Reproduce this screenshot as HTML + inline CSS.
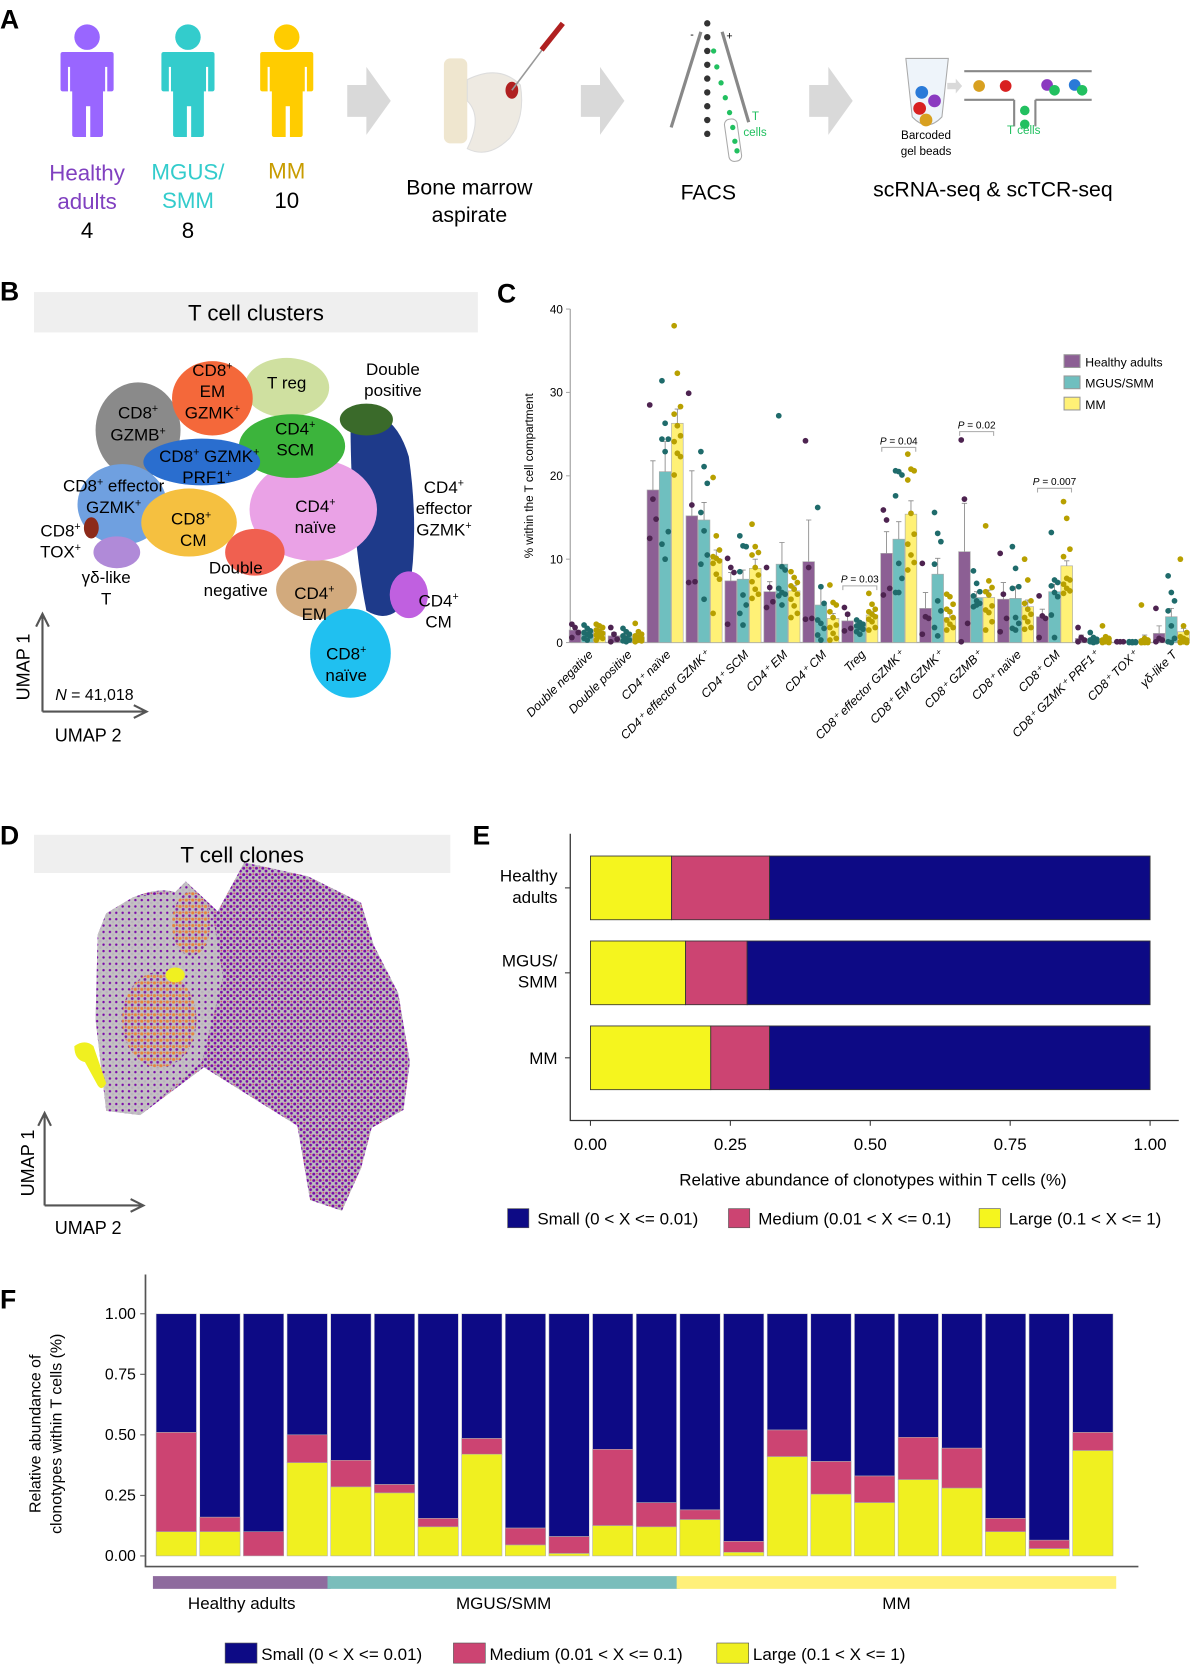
<!DOCTYPE html>
<html><head><meta charset="utf-8"><style>
html,body{margin:0;padding:0;background:#fff;}
svg{display:block;font-family:"Liberation Sans",Arial,sans-serif;}
</style></head><body>
<svg id="fig" width="1200" height="1677" viewBox="0 0 1130 1579" preserveAspectRatio="none" xmlns="http://www.w3.org/2000/svg">
<defs>
<pattern id="pdots" width="6" height="6" patternUnits="userSpaceOnUse"><rect width="6" height="6" fill="#bdbdbd"/><circle cx="1.5" cy="1.5" r="1.4" fill="#7a0aa8"/><circle cx="4.5" cy="4.2" r="1.3" fill="#7a0aa8"/><circle cx="4.5" cy="1" r="0.8" fill="#d84a6a"/></pattern>
<pattern id="odots" width="6" height="6" patternUnits="userSpaceOnUse"><rect width="6" height="6" fill="#bdbdbd"/><circle cx="1.5" cy="1.5" r="1.5" fill="#f08a30"/><circle cx="4.5" cy="4.2" r="1.3" fill="#7a0aa8"/><circle cx="4.5" cy="1" r="0.9" fill="#e86040"/></pattern>
<pattern id="gdots" width="6" height="6" patternUnits="userSpaceOnUse"><rect width="6" height="6" fill="#c4c4c4"/><circle cx="1.5" cy="1.5" r="1.1" fill="#7a0aa8"/></pattern>
</defs>

<!-- Panel A -->
<g>
<text x="0" y="27" font-size="25" font-weight="bold">A</text>
<g fill="#9966ff">
<circle cx="82" cy="35" r="12"/><rect x="57" y="49" width="50" height="37" rx="2"/><rect x="68" y="80" width="29" height="49" rx="2"/>
<rect x="64" y="63" width="2" height="24" fill="#fff"/><rect x="99" y="63" width="2" height="24" fill="#fff"/><rect x="81" y="100" width="4" height="30" fill="#fff"/></g>
<g fill="#33cccc">
<circle cx="177" cy="35" r="12"/><rect x="152" y="49" width="50" height="37" rx="2"/><rect x="163" y="80" width="29" height="49" rx="2"/>
<rect x="159" y="63" width="2" height="24" fill="#fff"/><rect x="194" y="63" width="2" height="24" fill="#fff"/><rect x="176" y="100" width="4" height="30" fill="#fff"/></g>
<g fill="#ffcc00">
<circle cx="270" cy="35" r="12"/><rect x="245" y="49" width="50" height="37" rx="2"/><rect x="256" y="80" width="29" height="49" rx="2"/>
<rect x="252" y="63" width="2" height="24" fill="#fff"/><rect x="287" y="63" width="2" height="24" fill="#fff"/><rect x="269" y="100" width="4" height="30" fill="#fff"/></g>
<g font-size="21" text-anchor="middle">
<text x="82" y="170" fill="#8040c0">Healthy</text>
<text x="82" y="197" fill="#8040c0">adults</text>
<text x="82" y="224">4</text>
<text x="177" y="169" fill="#33cccc">MGUS/</text>
<text x="177" y="196" fill="#33cccc">SMM</text>
<text x="177" y="224">8</text>
<text x="270" y="168" fill="#c89c00">MM</text>
<text x="270" y="196">10</text>
<text x="442" y="183" font-size="20">Bone marrow</text>
<text x="442" y="209" font-size="20">aspirate</text>
<text x="667" y="188" font-size="20">FACS</text>
<text x="935" y="185" font-size="20">scRNA-seq &amp; scTCR-seq</text>
</g>
<g fill="#d9d9d9">
<path d="M327,80 H345 V63 L368,95 L345,127 V110 H327 Z"/>
<path d="M547,80 H565 V63 L588,95 L565,127 V110 H547 Z"/>
<path d="M762,80 H780 V63 L803,95 L780,127 V110 H762 Z"/>
</g>
<g>
<rect x="418" y="55" width="22" height="80" rx="6" fill="#efe6cf"/>
<path d="M440,75 Q470,60 490,80 Q495,110 480,130 Q460,150 440,140 Q455,110 440,95 Z" fill="#eeeae2" stroke="#ddd"/>
<ellipse cx="482" cy="85" rx="6" ry="8" fill="#b02020"/>
<line x1="482" y1="85" x2="512" y2="45" stroke="#999" stroke-width="1.5"/>
<line x1="510" y1="47" x2="530" y2="22" stroke="#b02020" stroke-width="5"/>
</g>
<g>
<line x1="660" y1="30" x2="632" y2="120" stroke="#888" stroke-width="3"/>
<line x1="680" y1="30" x2="705" y2="115" stroke="#888" stroke-width="3"/>
<text x="650" y="36" font-size="10">-</text><text x="684" y="37" font-size="10">+</text>
<g fill="#333"><circle cx="666" cy="22" r="3"/><circle cx="666" cy="35" r="3"/><circle cx="666" cy="48" r="3"/><circle cx="666" cy="61" r="3"/><circle cx="666" cy="74" r="3"/><circle cx="666" cy="87" r="3"/><circle cx="666" cy="100" r="3"/><circle cx="666" cy="113" r="3"/><circle cx="666" cy="126" r="3"/></g>
<g fill="#22c060"><circle cx="672" cy="48" r="2.5"/><circle cx="675" cy="63" r="2.5"/><circle cx="679" cy="78" r="2.5"/><circle cx="683" cy="92" r="2.5"/><circle cx="687" cy="106" r="2.5"/><circle cx="690" cy="120" r="2.5"/><circle cx="692" cy="133" r="2.5"/><circle cx="694" cy="142" r="2.5"/></g>
<rect x="684" y="112" width="12" height="40" rx="5" fill="none" stroke="#aaa" transform="rotate(-8 690 130)"/>
<text x="708" y="113" font-size="11" fill="#22c060">T</text><text x="700" y="128" font-size="11" fill="#22c060">cells</text>
</g>
<g>
<path d="M853,55 H893 L887,110 Q873,125 859,110 Z" fill="#eef4fa" stroke="#aaa"/>
<circle cx="868" cy="87" r="6" fill="#2a7ad8"/><circle cx="880" cy="95" r="6" fill="#8a3ac0"/><circle cx="866" cy="102" r="6" fill="#d82020"/><circle cx="872" cy="113" r="6" fill="#d8a020"/>
<path d="M892,78 H900 V74 L906,81 L900,88 V84 H892 Z" fill="#d9d9d9"/>
<line x1="908" y1="67" x2="1028" y2="67" stroke="#888" stroke-width="2"/>
<line x1="908" y1="94" x2="955" y2="94" stroke="#888" stroke-width="2"/><line x1="975" y1="94" x2="1028" y2="94" stroke="#888" stroke-width="2"/>
<line x1="955" y1="94" x2="955" y2="119" stroke="#888" stroke-width="2"/><line x1="975" y1="94" x2="975" y2="119" stroke="#888" stroke-width="2"/>
<circle cx="922" cy="81" r="5.5" fill="#d8a020"/><circle cx="947" cy="81" r="5.5" fill="#d82020"/><circle cx="986" cy="80" r="5.5" fill="#8a3ac0"/><circle cx="993" cy="85" r="5" fill="#22c060"/>
<circle cx="1012" cy="80" r="5.5" fill="#2a7ad8"/><circle cx="1019" cy="85" r="5" fill="#22c060"/>
<circle cx="965" cy="104" r="4.5" fill="#22c060"/><circle cx="965" cy="117" r="4.5" fill="#22c060"/>
<text x="872" y="131" font-size="11" text-anchor="middle">Barcoded</text><text x="872" y="146" font-size="11" text-anchor="middle">gel beads</text>
<text x="964" y="126" font-size="11" text-anchor="middle" fill="#22c060">T cells</text>
</g>
</g>

<!-- Panel B -->
<g>
<text x="0" y="283" font-size="25" font-weight="bold">B</text>
<rect x="32" y="275" width="418" height="38" fill="#efefef"/>
<text x="241" y="302" font-size="21" text-anchor="middle">T cell clusters</text>
<g>
<path d="M330,390 Q370,380 385,430 Q395,500 385,560 Q370,590 345,575 Q330,500 330,390 Z" fill="#1e3a8a"/>
<ellipse cx="345" cy="395" rx="25" ry="15" fill="#3a6a2a"/>
<ellipse cx="385" cy="560" rx="18" ry="22" fill="#c060e0"/>
<ellipse cx="298" cy="555" rx="38" ry="28" fill="#d2aa7d"/>
<ellipse cx="330" cy="615" rx="38" ry="42" fill="#20c0f0"/>
<ellipse cx="295" cy="480" rx="60" ry="48" fill="#eaa2e6"/>
<ellipse cx="240" cy="520" rx="28" ry="22" fill="#f06050"/>
<ellipse cx="270" cy="365" rx="40" ry="28" fill="#cfe0a0"/>
<ellipse cx="275" cy="420" rx="50" ry="30" fill="#3cb43c"/>
<ellipse cx="130" cy="405" rx="40" ry="45" fill="#8a8a8a"/>
<ellipse cx="200" cy="375" rx="38" ry="35" fill="#f4683a"/>
<ellipse cx="190" cy="435" rx="55" ry="22" fill="#2a6ecf"/>
<ellipse cx="115" cy="475" rx="42" ry="38" fill="#6fa0e0"/>
<ellipse cx="178" cy="492" rx="45" ry="32" fill="#f5c040"/>
<ellipse cx="110" cy="520" rx="22" ry="15" fill="#b08ad8"/>
<ellipse cx="86" cy="497" rx="7" ry="10" fill="#8c2a1a"/>
</g>
<g font-size="16" text-anchor="middle">
<text x="200" y="354">CD8<tspan font-size="10" dy="-6">+</tspan></text><text x="200" y="374">EM</text><text x="200" y="394">GZMK<tspan font-size="10" dy="-6">+</tspan></text>
<text x="270" y="366">T reg</text>
<text x="370" y="353">Double</text><text x="370" y="373">positive</text>
<text x="130" y="394">CD8<tspan font-size="10" dy="-6">+</tspan></text><text x="130" y="415">GZMB<tspan font-size="10" dy="-6">+</tspan></text>
<text x="278" y="409">CD4<tspan font-size="10" dy="-6">+</tspan></text><text x="278" y="429">SCM</text>
<text x="197" y="435">CD8<tspan font-size="10" dy="-6">+</tspan><tspan dy="6"> GZMK</tspan><tspan font-size="10" dy="-6">+</tspan></text><text x="195" y="455">PRF1<tspan font-size="10" dy="-6">+</tspan></text>
<text x="107" y="463">CD8<tspan font-size="10" dy="-6">+</tspan><tspan dy="6"> effector</tspan></text><text x="107" y="483">GZMK<tspan font-size="10" dy="-6">+</tspan></text>
<text x="180" y="494">CD8<tspan font-size="10" dy="-6">+</tspan></text><text x="182" y="514">CM</text>
<text x="297" y="482">CD4<tspan font-size="10" dy="-6">+</tspan></text><text x="297" y="502">naïve</text>
<text x="418" y="464">CD4<tspan font-size="10" dy="-6">+</tspan></text><text x="418" y="484">effector</text><text x="418" y="504">GZMK<tspan font-size="10" dy="-6">+</tspan></text>
<text x="57" y="505">CD8<tspan font-size="10" dy="-6">+</tspan></text><text x="57" y="525">TOX<tspan font-size="10" dy="-6">+</tspan></text>
<text x="100" y="549">γδ-like</text><text x="100" y="569">T</text>
<text x="222" y="540">Double</text><text x="222" y="561">negative</text>
<text x="296" y="564">CD4<tspan font-size="10" dy="-6">+</tspan></text><text x="296" y="584">EM</text>
<text x="413" y="571">CD4<tspan font-size="10" dy="-6">+</tspan></text><text x="413" y="591">CM</text>
<text x="326" y="621">CD8<tspan font-size="10" dy="-6">+</tspan></text><text x="326" y="641">naïve</text>
</g>
<g stroke="#555" stroke-width="2" fill="none">
<path d="M40,670 V580 M34,590 L40,578 L46,590 M40,670 H136 M126,664 L138,670 L126,676"/>
</g>
<text x="28" y="628" font-size="17" text-anchor="middle" transform="rotate(-90 28 628)">UMAP 1</text>
<text x="83" y="698" font-size="17" text-anchor="middle">UMAP 2</text>
<text x="52" y="659" font-size="15"><tspan font-style="italic">N</tspan> = 41,018</text>
</g>

<!-- Panel C -->
<text x="468" y="285" font-size="25" font-weight="bold">C</text>
<g id="chartC"></g>

<!-- Panel D -->
<g>
<text x="0" y="795" font-size="25" font-weight="bold">D</text>
<rect x="32" y="786" width="392" height="36" fill="#efefef"/>
<text x="228" y="812" font-size="21" text-anchor="middle">T cell clones</text>
<path d="M100,860 L125,845 Q150,835 165,840 L175,830 L205,858 L230,812 L290,825 L340,850 L352,890 L375,935 L386,1000 L380,1045 L350,1062 L340,1100 L322,1140 L292,1130 L280,1060 L232,1030 L192,1005 L132,1050 L100,1046 L90,960 L92,880 Z" fill="url(#pdots)"/>
<path d="M100,860 L125,845 L165,840 L175,830 L200,860 L210,920 L190,1000 L132,1050 L100,1046 L90,960 L92,880 Z" fill="url(#gdots)" opacity="0.9"/>
<ellipse cx="150" cy="960" rx="35" ry="45" fill="url(#odots)" opacity="0.9"/>
<ellipse cx="180" cy="870" rx="18" ry="30" fill="url(#odots)" opacity="0.9"/>
<ellipse cx="165" cy="918" rx="9" ry="7" fill="#f0f020"/>
<path d="M70,985 Q80,978 88,985 L100,1020 Q96,1028 92,1022 L80,1000 Q70,998 70,985 Z" fill="#f0f020"/>
<g stroke="#555" stroke-width="2" fill="none">
<path d="M42,1135 V1050 M36,1060 L42,1048 L48,1060 M42,1135 H133 M123,1129 L135,1135 L123,1141"/>
</g>
<text x="32" y="1095" font-size="17" text-anchor="middle" transform="rotate(-90 32 1095)">UMAP 1</text>
<text x="83" y="1162" font-size="17" text-anchor="middle">UMAP 2</text>
</g>

<!-- Panel E -->
<text x="445" y="795" font-size="25" font-weight="bold">E</text>
<g id="chartE"></g>

<!-- Panel F -->
<text x="0" y="1232" font-size="25" font-weight="bold">F</text>
<g id="chartF"></g>
</svg>

<script>
// ---------- Chart C data ----------
const cCategories = ["Double negative","Double positive","CD4⁺ naïve","CD4⁺ effector GZMK⁺","CD4⁺ SCM","CD4⁺ EM","CD4⁺ CM","Treg","CD8⁺ effector GZMK⁺","CD8⁺ EM GZMK⁺","CD8⁺ GZMB⁺","CD8⁺ naïve","CD8⁺ CM","CD8⁺ GZMK⁺ PRF1⁺","CD8⁺ TOX⁺","γδ-like T"];
const cGroups = ["Healthy adults","MGUS/SMM","MM"];
const cMeanHA = [1.5,0.8,18.3,15.2,7.4,6.1,9.7,2.6,10.7,4.1,10.9,5.2,3.1,0.5,0.1,1.1];
const cMeanMG = [1.3,0.7,20.5,14.7,7.6,9.4,4.5,2.1,12.4,8.2,5.4,5.3,6.1,0.3,0.1,3.1];
const cMeanMM = [1.3,0.7,26.3,10.0,8.9,6.2,2.9,3.3,15.4,3.0,5.4,4.3,9.2,0.5,0.4,1.3];
const cErrHA = [0.3,0.4,3.5,5.4,1.0,1.2,5.0,0.6,2.6,1.9,5.8,2.0,0.9,0.4,0.05,0.9];
const cErrMG = [0.3,0.3,3.6,2.1,1.1,2.6,2.2,0.3,2.1,1.9,0.7,1.4,0.9,0.3,0.05,1.0];
const cErrMM = [0.3,0.3,1.7,1.1,1.1,0.6,0.6,0.4,1.6,0.5,0.9,0.8,0.6,0.3,0.5,0.4];
const cPtsHA = [[2.2,1.8,1.2,0.6],[1.8,1.0,0.4,0.1],[28.5,17.2,14.8,12.5],[29.9,16.5,7.3,7.2],[10.1,9.0,8.4,2.2],[9.0,6.6,4.9,4.2],[24.2,9.0,2.9,2.8],[4.2,3.4,1.7,1.4],[15.9,14.7,6.5,5.7],[9.5,3.1,2.9,1.0],[24.3,17.2,2.3,0.1],[10.7,5.8,2.9,1.3],[5.6,3.2,2.9,0.6],[1.8,0.6,0.3,0.1],[0.1,0.1,0.1,0.1],[4.1,0.5,0.3,0.1]];
const cPtsMG = [[2.1,1.7,1.4,1.2,1.0,0.8,0.5,0.3],[1.7,1.3,1.0,0.8,0.5,0.3,0.2,0.1],[31.4,26.3,24.4,24.4,22.9,13.3,11.8,10.0],[22.9,21.1,19.1,15.6,13.4,10.5,9.4,5.2],[12.8,11.6,11.5,8.5,5.7,4.5,3.5,2.1],[27.2,9.1,8.7,6.5,6.0,5.8,5.6,4.5],[16.2,6.7,4.7,2.7,2.3,1.7,0.9,0.3],[2.7,2.4,2.2,2.0,1.8,1.6,1.3,1.0],[20.6,20.5,20.1,17.6,9.5,7.7,6.0,6.0],[15.6,13.1,12.1,9.4,5.0,3.8,1.8,0.8],[8.6,7.1,6.1,5.6,5.0,4.7,4.3,4.5],[11.5,8.9,6.7,6.5,3.0,2.3,1.7,1.5],[13.2,7.5,7.2,6.8,6.0,5.5,3.3,0.6],[1.2,0.6,0.4,0.3,0.2,0.1,0.1,0.0],[0.1,0.1,0.1,0.1,0,0,0,0],[8.0,6.0,5.0,3.8,2.0,0.5,0.1,0.0]];
const cPtsMM = [[2.2,2.0,1.8,1.5,1.3,1.1,0.9,0.7,0.5,0.3],[2.3,1.3,1.0,0.8,0.6,0.5,0.4,0.3,0.2,0.1],[38.0,32.3,28.3,27.4,26.0,24.8,24.1,22.7,22.3,20.1],[19.8,12.8,11.1,10.3,10.1,9.8,9.5,8.2,7.6,3.5],[14.2,11.5,10.8,10.5,9.0,8.1,7.3,6.4,5.8,5.3],[8.5,7.8,7.2,6.8,6.4,5.8,5.2,4.4,3.5,3.0],[6.9,4.8,4.5,3.7,3.0,2.1,1.8,1.1,0.5,0.3],[5.9,4.6,4.0,3.7,3.4,3.1,2.8,2.5,1.8,1.5],[22.6,20.8,20.6,19.5,15.5,13.0,11.8,10.5,9.6,8.7],[5.8,5.5,4.6,4.0,3.7,3.0,2.7,2.2,1.8,1.5],[14.0,7.4,6.6,6.1,5.7,4.4,3.9,3.6,2.5,1.5],[10.0,7.5,5.0,4.7,4.0,3.4,3.0,2.5,1.8,1.6],[16.9,14.9,11.2,10.3,7.7,7.5,7.0,6.5,6.2,5.9],[2.0,0.7,0.5,0.3,0.2,0.1,0.1,0.1,0,0],[4.5,0.5,0.3,0.2,0.1,0.1,0,0,0,0],[10.0,2.0,1.2,0.7,0.5,0.3,0.1,0.1,0,0]];
const cTicks = [0,10,20,30,40];
const cPvalCats = [7,8,10,12];
const cPvalLabels = ["0.03","0.04","0.02","0.007"];
const cPvalHeights = [6.8,23.4,25.3,18.5];

// ---------- Chart E data ----------
const eCategories = ["Healthy adults","MGUS/SMM","MM"];
const eLarge = [0.145,0.17,0.215];
const eMedium = [0.175,0.11,0.105];
const eSmall = [0.68,0.72,0.68];
const eTicks = [0,0.25,0.5,0.75,1.0];
const eTickLabels = ["0.00","0.25","0.50","0.75","1.00"];

// ---------- Chart F data ----------
const fSamples = ["HA1","HA2","HA3","HA4","MG1","MG2","MG3","MG4","MG5","MG6","MG7","MG8","MM1","MM2","MM3","MM4","MM5","MM6","MM7","MM8","MM9","MM10"];
const fLarge = [0.10,0.10,0.0,0.385,0.285,0.26,0.12,0.42,0.045,0.01,0.125,0.12,0.15,0.015,0.41,0.255,0.22,0.315,0.28,0.10,0.03,0.435];
const fMedium = [0.41,0.06,0.10,0.115,0.11,0.035,0.035,0.065,0.07,0.07,0.315,0.10,0.04,0.045,0.11,0.135,0.11,0.175,0.165,0.055,0.035,0.075];
const fTicks = [0,0.25,0.5,0.75,1.0];
const fTickLabels = ["0.00","0.25","0.50","0.75","1.00"];
const fGroupNames = ["Healthy adults","MGUS/SMM","MM"];
const fGroupCounts = [4,8,10];

const NS="http://www.w3.org/2000/svg";
function mk(tag, attrs, parent, text){const e=document.createElementNS(NS,tag);for(const k in attrs)e.setAttribute(k,attrs[k]);if(text!==undefined)e.textContent=text;parent.appendChild(e);return e;}

// ===== Chart C =====
(function(){
const g=document.getElementById('chartC');
const x0=537, yBase=605, yTop=291, vMax=40;
const yC=v=>yBase-(v/vMax)*(yBase-yTop);
const firstC=553, step=(1103-553)/(cCategories.length-1);
const xC=i=>firstC+i*step;
const bw=11;
const barFill=["#8c5f94","#6fbfbf","#fff176"];
const ptFill=["#4d2350","#1f6b6b","#b8a000"];
const means=[cMeanHA,cMeanMG,cMeanMM], errs=[cErrHA,cErrMG,cErrMM], pts=[cPtsHA,cPtsMG,cPtsMM];
let ax=mk('line',{x1:x0,y1:yTop,x2:x0,y2:yBase,stroke:'#aaa','stroke-width':1.2},g);


let bx=mk('line',{x1:x0,y1:yBase,x2:1120,y2:yBase,stroke:'#aaa','stroke-width':1.2},g);


cTicks.forEach(t=>{
  mk('line',{x1:x0-4,y1:yC(t),x2:x0,y2:yC(t),stroke:'#aaa'},g);
  const tl=mk('text',{x:x0-7,y:yC(t)+4,'font-size':11,'text-anchor':'end'},g,String(t));
  
  
});
const yt=mk('text',{x:502,y:448,'font-size':11,'text-anchor':'middle',transform:'rotate(-90 502 448)'},g,'% within the T cell compartment');


cCategories.forEach((c,i)=>{
  for(let k=0;k<3;k++){
    const cx=xC(i)+(k-1)*(bw+0.5);
    const v=means[k][i];
    const r=mk('rect',{x:cx-bw/2,y:yC(v),width:bw,height:yBase-yC(v),fill:barFill[k],stroke:'#aaa','stroke-width':0.6},g);
    
    
    const e=v+errs[k][i];
    const el=mk('path',{d:`M${cx},${yC(v)} V${yC(e)} M${cx-2.5},${yC(e)} H${cx+2.5}`,stroke:'#888','stroke-width':0.8,fill:'none'},g);
    
    
    pts[k][i].forEach((p,j)=>{
      const off=((j%3)-1)*3;
      const d=mk('circle',{cx:cx+off,cy:yC(p),r:2.7,fill:ptFill[k]},g);
      
      
    });
  }
  const lx=xC(i)+6, ly=617;
  const t=mk('text',{x:lx,y:ly,'font-size':11.5,'font-style':'italic','text-anchor':'end',transform:`rotate(-45 ${lx} ${ly})`},g,c);
  
  
});
cPvalCats.forEach((ci,j)=>{
  const y=yC(cPvalHeights[j]);
  const b=mk('path',{d:`M${xC(ci)-16},${y+4} V${y} H${xC(ci)+16} V${y+4}`,stroke:'#aaa',fill:'none'},g);
  
  
  const t=mk('text',{x:xC(ci),y:y-3,'font-size':9.5,'text-anchor':'middle'},g);
  t.innerHTML='<tspan font-style="italic">P</tspan> = '+cPvalLabels[j];
  
  
});
cGroups.forEach((n,k)=>{
  const y=334+k*20;
  const r=mk('rect',{x:1002,y:y,width:15,height:12,fill:barFill[k],stroke:'#999'},g);
  
  
  const t=mk('text',{x:1022,y:y+11,'font-size':11.5},g,n);
  
  
});
})();

// ===== Chart E =====
(function(){
const g=document.getElementById('chartE');
const xE=v=>556+v*(1083-556);
const yRows=[806,886,966], bh=60;
const cols={s:'#0d0a85',m:'#cc4472',l:'#f5f51e'};
let a=mk('path',{d:'M537,785 V1055 H1110',stroke:'#333','stroke-width':1.2,fill:'none'},g);


eCategories.forEach((c,i)=>{
  const y=yRows[i];
  let acc=0;
  [[eLarge[i],cols.l,'large'],[eMedium[i],cols.m,'medium'],[eSmall[i],cols.s,'small']].forEach(([v,col,nm])=>{
    const r=mk('rect',{x:xE(acc),y:y,width:xE(acc+v)-xE(acc),height:bh,fill:col,stroke:'#333','stroke-width':0.8},g);
    
    
    acc+=v;
  });
  mk('line',{x1:532,y1:y+bh/2,x2:537,y2:y+bh/2,stroke:'#333'},g);
});
const yl=[["Healthy","adults",836],["MGUS/","SMM",916]];
yl.forEach(([a1,a2,y])=>{
  const t1=mk('text',{x:525,y:y-6,'font-size':16,'text-anchor':'end'},g,a1);
  
  
  const t2=mk('text',{x:525,y:y+14,'font-size':16,'text-anchor':'end'},g,a2);
  
  
});
const tm=mk('text',{x:525,y:1002,'font-size':16,'text-anchor':'end'},g,'MM');


eTicks.forEach((t,i)=>{
  mk('line',{x1:xE(t),y1:1055,x2:xE(t),y2:1060,stroke:'#333'},g);
  const tl=mk('text',{x:xE(t),y:1083,'font-size':16,'text-anchor':'middle'},g,eTickLabels[i]);
  
  
});
const xt=mk('text',{x:822,y:1116,'font-size':16,'text-anchor':'middle'},g,'Relative abundance of clonotypes within T cells (%)');


const leg=[[478,cols.s,'Small (0 < X <= 0.01)'],[686,cols.m,'Medium (0.01 < X <= 0.1)'],[922,cols.l,'Large (0.1 < X <= 1)']];
leg.forEach(([x,col,lab])=>{
  const r=mk('rect',{x:x,y:1138,width:20,height:18,fill:col,stroke:'#555','stroke-width':0.6},g);
  
  
  const t=mk('text',{x:x+28,y:1153,'font-size':16},g,lab);
  
  
});
})();

// ===== Chart F =====
(function(){
const g=document.getElementById('chartF');
const yF=v=>1465-v*(1465-1237);
const step=41.1;
const bw=38;
const xF=i=>147+i*step;
const cols={s:'#0d0a85',m:'#cc4472',l:'#f0f020'};
let a=mk('path',{d:'M137,1200 V1475 H1072',stroke:'#555','stroke-width':1.6,fill:'none'},g);


fTicks.forEach((t,i)=>{
  mk('line',{x1:132,y1:yF(t),x2:137,y2:yF(t),stroke:'#555'},g);
  const tl=mk('text',{x:128,y:yF(t)+5,'font-size':15,'text-anchor':'end'},g,fTickLabels[i]);
  
  
});
const t1=mk('text',{x:38,y:1350,'font-size':15,'text-anchor':'middle',transform:'rotate(-90 38 1350)'},g,'Relative abundance of');


const t2=mk('text',{x:58,y:1350,'font-size':15,'text-anchor':'middle',transform:'rotate(-90 58 1350)'},g,'clonotypes within T cells (%)');


fSamples.forEach((s,i)=>{
  const L=fLarge[i], M=fMedium[i];
  const x=xF(i);
  const rs=mk('rect',{x:x,y:yF(1),width:bw,height:yF(L+M)-yF(1),fill:cols.s,stroke:'#ccc','stroke-width':0.5},g);
  
  
  const rm=mk('rect',{x:x,y:yF(L+M),width:bw,height:yF(L)-yF(L+M),fill:cols.m,stroke:'#aaa','stroke-width':0.5},g);
  
  
  const rl=mk('rect',{x:x,y:yF(L),width:bw,height:yF(0)-yF(L),fill:cols.l,stroke:'#aaa','stroke-width':0.5},g);
  
  
});
const gcol=['#8e6b9e','#7abdbb','#fff07a'];
let start=0;
fGroupNames.forEach((n,k)=>{
  const xa=xF(start)-4, xb=xF(start+fGroupCounts[k]-1)+bw+4;
  const r=mk('rect',{x:xa+1,y:1484,width:xb-xa-2,height:12,fill:gcol[k]},g);
  
  
  const t=mk('text',{x:(xa+xb)/2,y:1515,'font-size':16,'text-anchor':'middle'},g,n);
  
  
  start+=fGroupCounts[k];
});
const leg=[[212,cols.s,'Small (0 < X <= 0.01)'],[427,cols.m,'Medium (0.01 < X <= 0.1)'],[675,cols.l,'Large (0.1 < X <= 1)']];
leg.forEach(([x,col,lab])=>{
  const r=mk('rect',{x:x,y:1547,width:30,height:19,fill:col,stroke:'#555','stroke-width':0.6},g);
  
  
  const t=mk('text',{x:x+34,y:1563,'font-size':16},g,lab);
  
  
});
})();
</script>
</body></html>
